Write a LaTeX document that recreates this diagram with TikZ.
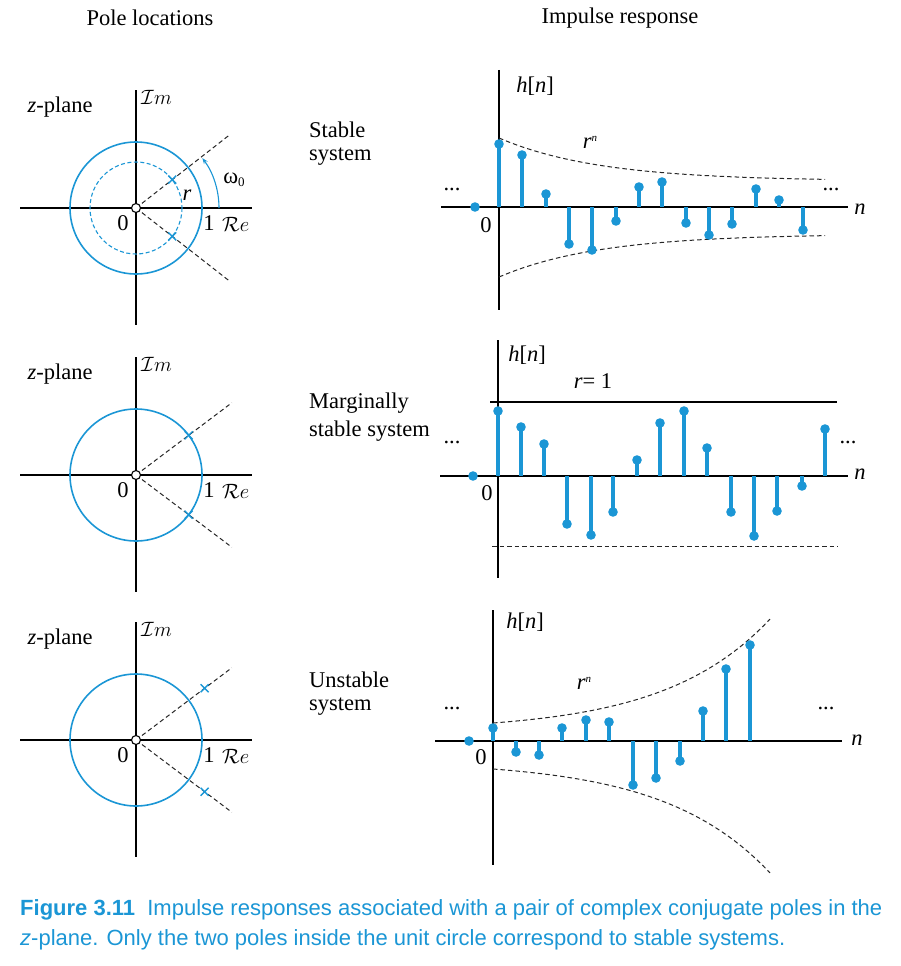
\documentclass[tikz,border=0pt]{standalone}
\usepackage{fontspec}
\setmainfont{Liberation Serif}
\newfontfamily\capfont{Liberation Sans}
\usetikzlibrary{arrows.meta}
\definecolor{sb}{RGB}{27,150,213}
\newcommand{\iv}[1]{\textit{#1}}
\begin{document}
\begin{tikzpicture}[x=1pt,y=-1pt,
  txt/.style={font=\fontsize{22.5}{26}\selectfont,inner sep=0pt},
  ax/.style={line width=1.1pt},
  env/.style={dash pattern=on 4.5pt off 3pt,line width=1pt,black!85},
  stem/.style={sb,line width=3.6pt},
  tip/.style={sb,fill=sb},
  uc/.style={sb,line width=1.6pt}]
\useasboundingbox (0,0) rectangle (900,966);
\node[txt] (t1) at (150,18) {Pole locations};
\node[txt] (t2) at (620,18) {Impulse response};
% ---------- pole plots
\foreach \oy/\pr/\ang in {208/46/38, 475/66/37, 740/86/37}{
  \draw[ax] (20,\oy) -- (252,\oy);
  \draw[ax] (136,\oy-118) -- (136,\oy+117);
  \draw[uc] (136,\oy) circle[radius=66];
  \draw[env] (136,\oy) -- ++(-\ang:120);
  \draw[env] (136,\oy) -- ++(\ang:120);
  \draw[sb,line width=1.4pt] (136,\oy)++(-\ang:\pr)++(-4,-4)--++(8,8) ++(0,-8)--++(-8,8);
  \draw[sb,line width=1.4pt] (136,\oy)++(\ang:\pr)++(-4,-4)--++(8,8) ++(0,-8)--++(-8,8);
  \draw[line width=1.1pt,fill=white] (136,\oy) circle[radius=4.5];
  \node[txt] at (60,\oy-101) {\iv{z}-plane};
  \node[txt,anchor=west] at (141,\oy-111) {$\mathcal{I}m$};
  \node[txt] at (123,\oy+15) {0};
  \node[txt] at (209,\oy+15) {1};
  \node[txt,anchor=west] at (222,\oy+16) {$\mathcal{R}e$};
}
\draw[sb,dash pattern=on 4pt off 2.5pt,line width=1.1pt] (136,208) circle[radius=46];
\draw[sb,line width=1.1pt,-{Stealth[length=6pt]}] (219,208) arc[start angle=0,end angle=-37,radius=83];
\node[txt] at (187,195) {\iv{r}};
\node[txt] at (234,180) {ω\raisebox{-3pt}{\fontsize{13}{13}\selectfont 0}};
% ---------- row labels
\node[txt,anchor=west] (s1) at (309,130) {Stable};
\node[txt,anchor=west] (s2) at (309,157) {system};
\node[txt,anchor=west] (m1) at (309,403) {Marginally};
\node[txt,anchor=west] (m2) at (309,431) {stable system};
\node[txt,anchor=west] (u1) at (309,680) {Unstable};
\node[txt,anchor=west] (u2) at (309,707) {system};
% ---------- impulse 1
\draw[ax] (441,207) -- (848,207);
\draw[ax] (499,70) -- (499,310);
\draw[env] plot[domain=499:825,samples=40] (\x,{207-26-43*exp(-(\x-499)/100)});
\draw[env] plot[domain=499:825,samples=40] (\x,{207+27+43*exp(-(\x-499)/100)});
\foreach \x/\h in {475/0,499/63,522/52,546/13,569/-37,592/-43,616/-14,639/20,662/25,686/-16,709/-28,732/-17,756/18,779/7,803/-23}{
  \draw[stem] (\x,207) -- (\x,207-\h);
  \fill[tip] (\x,207-\h) circle[radius=4.8];}
\node[txt] at (535,86) {\iv{h}[\iv{n}]};
\node[txt] at (590,142) {\iv{r}\raisebox{7pt}{\fontsize{11}{11}\selectfont\iv{n}}};
\node[txt] at (452,189) {...};
\node[txt] at (831,189) {...};
\node[txt] at (486,225) {0};
\node[txt] at (860,209) {\iv{n}};
% ---------- impulse 2
\draw[ax] (440,476) -- (848,476);
\draw[ax] (498,340) -- (498,578);
\draw[line width=1.1pt] (490,402) -- (837,402);
\draw[env] (492,546) -- (838,546);
\foreach \x/\h in {473/0,498/65,521/49,544/32,567/-48,591/-59,613/-36,637/16,660/53,684/65,707/28,731/-36,754/-60,777/-35,802/-10,825/47}{
  \draw[stem] (\x,476) -- (\x,476-\h);
  \fill[tip] (\x,476-\h) circle[radius=4.8];}
\node[txt] at (527,355) {\iv{h}[\iv{n}]};
\node[txt] at (593,381) {\iv{r}= 1};
\node[txt] at (452,442) {...};
\node[txt] at (848,442) {...};
\node[txt] at (487,493) {0};
\node[txt] at (860,474) {\iv{n}};
% ---------- impulse 3
\draw[ax] (435,741) -- (842,741);
\draw[ax] (493,610) -- (493,865);
\draw[env] plot[domain=493:770,samples=40] (\x,{741-10-8*exp((\x-493)/105)});
\draw[env] plot[domain=493:770,samples=40] (\x,{741+20+8*exp((\x-493)/105)});
\foreach \x/\h in {469/0,493/13,516/-11,539/-14,562/13,586/21,609/19,633/-44,656/-37,680/-20,703/30,726/72,750/96}{
  \draw[stem] (\x,741) -- (\x,741-\h);
  \fill[tip] (\x,741-\h) circle[radius=4.8];}
\node[txt] at (525,622) {\iv{h}[\iv{n}]};
\node[txt] at (584,683) {\iv{r}\raisebox{7pt}{\fontsize{11}{11}\selectfont\iv{n}}};
\node[txt] at (452,708) {...};
\node[txt] at (826,708) {...};
\node[txt] at (481,757) {0};
\node[txt] at (857,740) {\iv{n}};
% ---------- caption
\node[anchor=west,inner sep=0pt,font=\capfont\fontsize{22}{25}\selectfont] (c1) at (20,910) {\textcolor{sb}{\textbf{Figure 3.11}}\ \ \textcolor{sb}{Impulse responses associated with a pair of complex conjugate poles in the}};
\node[anchor=west,inner sep=0pt,font=\capfont\fontsize{22}{25}\selectfont,text=sb] (c2) at (20,940) {\textit{z}-plane. Only the two poles inside the unit circle correspond to stable systems.};
\end{tikzpicture}
\end{document}
